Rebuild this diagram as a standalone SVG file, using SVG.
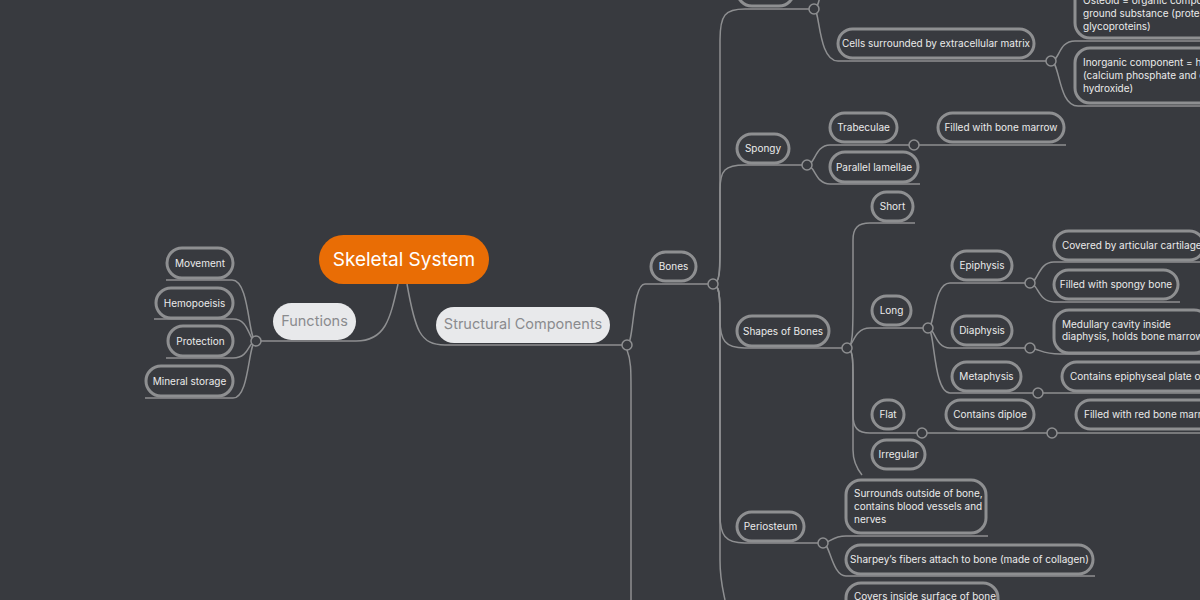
<svg xmlns="http://www.w3.org/2000/svg" width="1200" height="600" viewBox="0 0 1200 600">
<style>
.c{fill:none;stroke:#8e8f91;stroke-width:1.5}
.n rect{fill:#383a3f;stroke:#8e8f91;stroke-width:3}
.n text{fill:#ebebeb;font-family:Inter,"Noto Sans",sans-serif;font-size:10px}
.k{fill:#383a3f;stroke:#8e8f91;stroke-width:1.5}
.m rect{fill:#e8e9eb}
.m text{fill:#8a8b8e;font-family:Inter,"Noto Sans",sans-serif;font-size:14.5px}
</style>
<rect width="1200" height="600" fill="#383a3f"/>
<g id="connectors">
<path class="c" d="M398,284 C390,320 385,341 356,341 H261"/>
<path class="c" d="M256,341 C248,341 250,280 232,280 H166"/>
<path class="c" d="M256,341 C248,341 250,319 233,319 H154"/>
<path class="c" d="M256,341 C248,341 250,358 233,358 H166"/>
<path class="c" d="M256,341 C248,341 250,398 233,398 H145"/>
<path class="c" d="M407,284 C415,330 420,345 445,345 H622"/>
<path class="c" d="M627,345 C634,345 632,284 645,284 H708"/>
<path class="c" d="M627,350 C631,360 631,370 631,390 V600"/>
<path class="c" d="M713,284 C720,284 720,270 720,250 V40 C720,15 725,9 745,9 H809"/>
<path class="c" d="M713,284 C720,284 720,270 720,240 V190 C720,170 725,165 745,165 H802"/>
<path class="c" d="M713,284 C720,284 720,300 720,320 C720,340 725,348 745,348 H842"/>
<path class="c" d="M713,284 C720,284 720,300 720,320 V515 C720,535 725,543 745,543 H818"/>
<path class="c" d="M713,284 C720,284 720,300 720,320 V560 C720,580 723,590 725,600"/>
<path class="c" d="M814,9 C820,5 818,0 822,-10"/>
<path class="c" d="M814,9 C820,9 818,61 838,61 H1046"/>
<path class="c" d="M1051,61 C1060,61 1058,41 1075,41 H1200"/>
<path class="c" d="M1051,61 C1060,61 1058,106 1078,106 H1200"/>
<path class="c" d="M807,165 C815,165 815,145 830,145 H909"/>
<path class="c" d="M807,165 C815,165 815,184 830,184 H920"/>
<path class="c" d="M919,145 H1066"/>
<path class="c" d="M847,348 C853,348 853,330 853,300 V240 C853,228 858,223 870,223 H915"/>
<path class="c" d="M847,348 C853,348 853,328 870,328 H923"/>
<path class="c" d="M847,348 C853,348 853,360 853,380 V415 C853,428 858,433 870,433 H917"/>
<path class="c" d="M847,348 C853,348 853,360 853,380 V450 C853,462 858,470 862,475"/>
<path class="c" d="M928,328 C935,328 933,283 950,283 H1025"/>
<path class="c" d="M928,328 C935,328 935,348 950,348 H1025"/>
<path class="c" d="M928,328 C935,328 933,393 950,393 H1033"/>
<path class="c" d="M1030,283 C1038,283 1038,262 1054,262 H1200"/>
<path class="c" d="M1030,283 C1038,283 1038,302 1054,302 H1180"/>
<path class="c" d="M1035,349 C1042,351 1045,354 1060,354 H1200"/>
<path class="c" d="M1043,393 H1200"/>
<path class="c" d="M927,433 H1047"/>
<path class="c" d="M1057,433 H1200"/>
<path class="c" d="M823,543 C830,543 832,536 846,536 H988"/>
<path class="c" d="M823,543 C830,543 832,576 846,576 H1095"/>
<circle class="k" cx="256" cy="341" r="5"/>
<circle class="k" cx="627" cy="345" r="5"/>
<circle class="k" cx="713" cy="284" r="5"/>
<circle class="k" cx="814" cy="9" r="5"/>
<circle class="k" cx="1051" cy="61" r="5"/>
<circle class="k" cx="807" cy="165" r="5"/>
<circle class="k" cx="914" cy="145" r="5"/>
<circle class="k" cx="847" cy="348" r="5"/>
<circle class="k" cx="928" cy="328" r="5"/>
<circle class="k" cx="1030" cy="283" r="5"/>
<circle class="k" cx="1030" cy="348" r="5"/>
<circle class="k" cx="1038" cy="393" r="5"/>
<circle class="k" cx="922" cy="433" r="5"/>
<circle class="k" cx="1052" cy="433" r="5"/>
<circle class="k" cx="823" cy="543" r="5"/>
</g>
<g id="root"><rect x="319" y="235" width="170" height="49" rx="24.5" fill="#e96d05"/><text x="404" y="266" text-anchor="middle" fill="#fff" font-family="Inter,'Noto Sans',sans-serif" font-size="19">Skeletal System</text></g>
<g id="functions" class="m"><rect x="273" y="303" width="83" height="37" rx="18.5"/><text x="314.5" y="326" text-anchor="middle">Functions</text></g>
<g id="structural" class="m"><rect x="436" y="307" width="174" height="36" rx="18"/><text x="523" y="329" text-anchor="middle">Structural Components</text></g>
<g class="n" text-anchor="middle">
<g id="movement"><rect x="167" y="248" width="66" height="30" rx="15"/><text x="200" y="266.5">Movement</text></g>
<g id="hemo"><rect x="156" y="288" width="77" height="30" rx="15"/><text x="194.5" y="306.5">Hemopoeisis</text></g>
<g id="protection"><rect x="168" y="326" width="65" height="30" rx="15"/><text x="200.5" y="344.5">Protection</text></g>
<g id="mineral"><rect x="146" y="366" width="87" height="30" rx="15"/><text x="189.5" y="384.5">Mineral storage</text></g>
<g id="bones"><rect x="651" y="252" width="45" height="29" rx="14.5"/><text x="673.5" y="270">Bones</text></g>
<g id="compact"><rect x="737" y="-25" width="57" height="31" rx="15"/></g>
<g id="cells"><rect x="838" y="29" width="196" height="29" rx="14.5"/><text x="936" y="47">Cells surrounded by extracellular matrix</text></g>
<g id="osteoid"><rect x="1075" y="-20" width="160" height="58" rx="15"/><text x="1083" y="4" text-anchor="start">Osteoid = organic component =</text><text x="1083" y="17" text-anchor="start">ground substance (proteins and</text><text x="1083" y="30" text-anchor="start">glycoproteins)</text></g>
<g id="inorganic"><rect x="1075" y="48" width="160" height="55" rx="15"/><text x="1083" y="66" text-anchor="start">Inorganic component = hydroxyapatite</text><text x="1083" y="79" text-anchor="start">(calcium phosphate and calcium</text><text x="1083" y="92" text-anchor="start">hydroxide)</text></g>
<g id="spongy"><rect x="737" y="134" width="52" height="29" rx="14.5"/><text x="763" y="152">Spongy</text></g>
<g id="trabeculae"><rect x="830" y="113" width="67" height="29" rx="14.5"/><text x="863.5" y="131">Trabeculae</text></g>
<g id="filledmarrow"><rect x="938" y="113" width="126" height="29" rx="14.5"/><text x="1001" y="131">Filled with bone marrow</text></g>
<g id="lamellae"><rect x="830" y="152" width="88" height="30" rx="15"/><text x="874" y="170.5">Parallel lamellae</text></g>
<g id="shapes"><rect x="737" y="316" width="92" height="30" rx="15"/><text x="783" y="334.5">Shapes of Bones</text></g>
<g id="short"><rect x="872" y="192" width="41" height="29" rx="14.5"/><text x="892.5" y="210">Short</text></g>
<g id="long"><rect x="872" y="296" width="39" height="29" rx="14.5"/><text x="891.5" y="314">Long</text></g>
<g id="flat"><rect x="872" y="400" width="32" height="29" rx="14.5"/><text x="888" y="418">Flat</text></g>
<g id="irregular"><rect x="872" y="440" width="53" height="29" rx="14.5"/><text x="898.5" y="458">Irregular</text></g>
<g id="epiphysis"><rect x="952" y="251" width="60" height="29" rx="14.5"/><text x="982" y="269">Epiphysis</text></g>
<g id="diaphysis"><rect x="952" y="316" width="60" height="29" rx="14.5"/><text x="982" y="334">Diaphysis</text></g>
<g id="metaphysis"><rect x="952" y="362" width="69" height="29" rx="14.5"/><text x="986.5" y="380">Metaphysis</text></g>
<g id="cartilage"><rect x="1054" y="231" width="150" height="29" rx="14.5"/><text x="1062" y="249" text-anchor="start">Covered by articular cartilage</text></g>
<g id="spongybone"><rect x="1054" y="270" width="124" height="29" rx="14.5"/><text x="1116" y="288">Filled with spongy bone</text></g>
<g id="medullary"><rect x="1054" y="310" width="155" height="43" rx="15"/><text x="1062" y="328" text-anchor="start">Medullary cavity inside</text><text x="1062" y="340" text-anchor="start">diaphysis, holds bone marrow</text></g>
<g id="plate"><rect x="1062" y="362" width="160" height="29" rx="14.5"/><text x="1070" y="380" text-anchor="start">Contains epiphyseal plate or line</text></g>
<g id="diploe"><rect x="946" y="400" width="88" height="29" rx="14.5"/><text x="990" y="418">Contains diploe</text></g>
<g id="redmarrow"><rect x="1076" y="400" width="150" height="29" rx="14.5"/><text x="1084" y="418" text-anchor="start">Filled with red bone marrow</text></g>
<g id="periosteum"><rect x="737" y="512" width="67" height="29" rx="14.5"/><text x="770.5" y="530">Periosteum</text></g>
<g id="surrounds"><rect x="846" y="480" width="140" height="53" rx="15"/><text x="854" y="497" text-anchor="start">Surrounds outside of bone,</text><text x="854" y="510" text-anchor="start">contains blood vessels and</text><text x="854" y="523" text-anchor="start">nerves</text></g>
<g id="sharpey"><rect x="846" y="545" width="247" height="29" rx="14.5"/><text x="969.5" y="563">Sharpey’s fibers attach to bone (made of collagen)</text></g>
<g id="covers"><rect x="846" y="583" width="152" height="40" rx="15"/><text x="854" y="600" text-anchor="start">Covers inside surface of bone</text></g>
</g>
</svg>
